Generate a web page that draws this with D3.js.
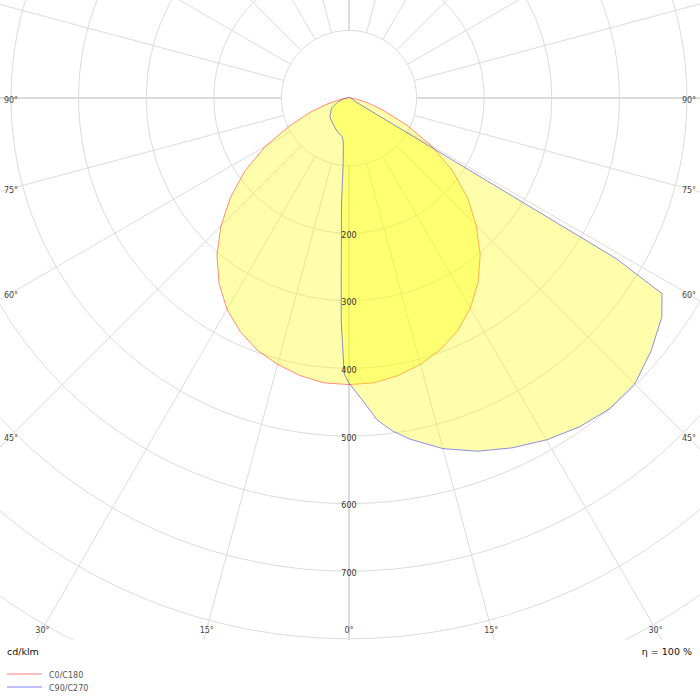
<!DOCTYPE html>
<html>
<head>
<meta charset="utf-8">
<script src="https://cdn.jsdelivr.net/npm/d3@7"></script>
<style>
  body { margin: 0; background: #fff; }
  svg { display: block; font-family: "DejaVu Sans", Verdana, sans-serif; }
</style>
</head>
<body>
<svg width="700" height="700"></svg>
<script>
// luminous intensity, cd/klm, gamma measured from straight down
var gammaC0 = [0,5,10,15,20,25,30,35,40,45,50,55,60,65,70,75,80,85,90,120,150,180];
var valuesC0 = [424,423,417,408,396,380,359,333,302,266,229,186,140,93,55,30,14,6,2,1,1,1];
var gammaC180 = [0,5,10,15,20,25,30,35,40,45,50,55,60,65,70,75,80,85,90,120,150,180];
var valuesC180 = [424,423,417,408,397,381,361,335,304,268,229,188,143,96,60,32,14,6,2,1,1,1];

var gammaC90 = [0,2.5,5,7.5,10,15,20,25,30,35,40,45,50,55,58,59,60,65,70,80,90,120,150,180];
var valuesC90 = [422,447,478,497,512,537,556,571,584,594,600,598,583,565,546,460,15,8,5,3,2,1,1,1];
var gammaC270 = [0,1,2,2.5,3,4,5,6,7.5,10,15,20,30,45,60,70,80,90,120,150,180];
var valuesC270 = [422,408,330,265,215,160,100,80,65,58,55,52,46,40,30,18,9,3,1,1,1];

var rings = [100,200,300,400,500,600,700,800,900,1000];
var ringLabels = [200,300,400,500,600,700];
var spokeAngles = d3.range(0, 360, 15);
var bottomLabels = [0,15,30];
var sideLabels = [45,60,75,90];

var svg = d3.select('svg');
var width = 700, plotH = 640;
var cx = 349, cy = 98;

var r = d3.scaleLinear().domain([0, 1000]).range([0, 676]);

var defs = svg.append('defs');
defs.append('clipPath').attr('id', 'plot')
  .append('rect').attr('x', 0).attr('y', 0).attr('width', width).attr('height', plotH);

var plot = svg.append('g').attr('clip-path', 'url(#plot)');
var g = plot.append('g').attr('transform', 'translate(' + cx + ',' + cy + ')');

// grid rings
g.selectAll('.ring')
  .data(rings)
  .enter()
  .append('circle')
  .attr('class', 'ring')
  .attr('r', function(d) { return r(d); })
  .attr('fill', 'none')
  .attr('stroke', '#dcdcdc')
  .attr('stroke-width', 1);

// spokes, start at the inner ring
g.selectAll('.spoke')
  .data(spokeAngles)
  .enter()
  .append('line')
  .attr('class', 'spoke')
  .attr('x1', function(d) { return r(100) * Math.sin(d * Math.PI / 180); })
  .attr('y1', function(d) { return r(100) * Math.cos(d * Math.PI / 180); })
  .attr('x2', function(d) { return r(1200) * Math.sin(d * Math.PI / 180); })
  .attr('y2', function(d) { return r(1200) * Math.cos(d * Math.PI / 180); })
  .attr('stroke', '#dcdcdc')
  .attr('stroke-width', function(d) { return d % 90 === 0 ? 2 : 1; });

// right half uses angle pi - gamma, left half pi + gamma
function halfPoints(gammas, values, side) {
  return gammas.map(function(gm, i) {
    var a = gm * Math.PI / 180;
    return { a: side > 0 ? Math.PI - a : Math.PI + a, v: values[i] };
  });
}

var radial = d3.lineRadial()
  .angle(function(d) { return d.a; })
  .radius(function(d) { return r(d.v); })
  .curve(d3.curveLinearClosed);

var curves = [
  { name: 'C0/C180', color: '#ff0000',
    pts: halfPoints(gammaC0, valuesC0, 1).concat(halfPoints(gammaC180, valuesC180, -1).reverse()) },
  { name: 'C90/C270', color: '#0000ff',
    pts: halfPoints(gammaC90, valuesC90, 1).concat(halfPoints(gammaC270, valuesC270, -1).reverse()) }
];

g.selectAll('.curve')
  .data(curves)
  .enter()
  .append('path')
  .attr('class', 'curve')
  .attr('d', function(d) { return radial(d.pts); })
  .attr('fill', '#ffff00')
  .attr('fill-opacity', 0.33)
  .attr('stroke', function(d) { return d.color; })
  .attr('stroke-opacity', 0.45)
  .attr('stroke-width', 1);

// ring values
g.selectAll('.rlabel')
  .data(ringLabels)
  .enter()
  .append('text')
  .attr('class', 'rlabel')
  .attr('x', 0)
  .attr('y', function(d) { return r(d) + 2; })
  .attr('text-anchor', 'middle')
  .attr('dominant-baseline', 'middle')
  .attr('font-size', 8)
  .attr('fill', '#333')
  .text(function(d) { return d; });

// angle labels along the border
var angleText = plot.append('g')
  .attr('font-size', 8)
  .attr('fill', '#444')
  .attr('text-anchor', 'middle')
  .attr('dominant-baseline', 'middle');

var yb = plotH - 11;
bottomLabels.forEach(function(d) {
  var dx = (yb - cy) * Math.tan(d * Math.PI / 180);
  var xs = d === 0 ? [0] : [-dx, dx];
  xs.forEach(function(x) {
    angleText.append('text').attr('x', cx + x).attr('y', yb + 1).text(d + '°');
  });
});
sideLabels.forEach(function(d) {
  var dy = d === 90 ? 0 : (cx - 11) / Math.tan(d * Math.PI / 180);
  angleText.append('text').attr('x', 11).attr('y', cy + dy + 2).text(d + '°');
  angleText.append('text').attr('x', 689).attr('y', cy + dy + 2).text(d + '°');
});

// unit + efficiency
svg.append('text')
  .attr('x', 7).attr('y', 655)
  .attr('font-size', 9.5)
  .attr('fill', '#111')
  .text('cd/klm');
svg.append('text')
  .attr('x', 692).attr('y', 655)
  .attr('text-anchor', 'end')
  .attr('font-size', 9.5)
  .attr('fill', '#111')
  .text('η = 100 %');

// legend
var legend = svg.append('g').selectAll('.leg')
  .data(curves)
  .enter()
  .append('g')
  .attr('class', 'leg')
  .attr('transform', function(d, i) { return 'translate(7,' + (674 + i * 13) + ')'; });

legend.append('line')
  .attr('x1', 0).attr('x2', 35)
  .attr('stroke', function(d) { return d.color; })
  .attr('stroke-opacity', 0.25)
  .attr('stroke-width', 2);

legend.append('text')
  .attr('x', 42).attr('y', 1)
  .attr('dominant-baseline', 'middle')
  .attr('font-size', 8)
  .attr('fill', '#555')
  .text(function(d) { return d.name; });
</script>
</body>
</html>
